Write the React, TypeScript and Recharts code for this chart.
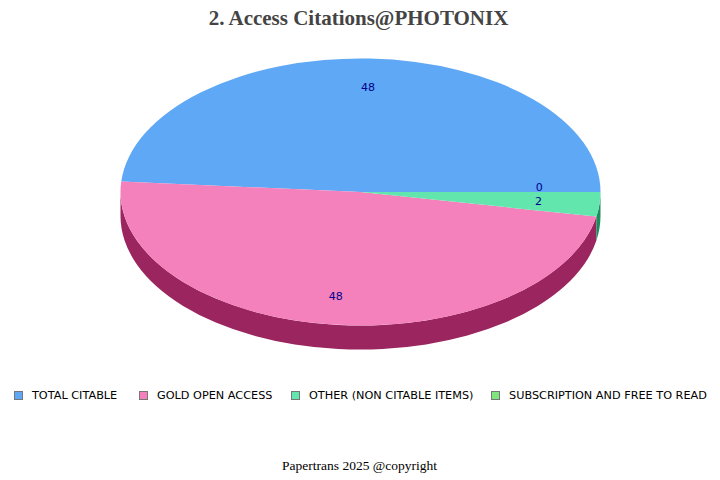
import React from "react";
import { PieChart, Pie, Legend } from "recharts";

const categories = ["TOTAL CITABLE", "GOLD OPEN ACCESS", "OTHER (NON CITABLE ITEMS)", "SUBSCRIPTION AND FREE TO READ"];
const shares = [48.75, 48.3, 2.95, 0];
const topColors = ["#5FA8F5", "#F481BB", "#62E6AD", "#7FE57F"];
const sideColors = ["#2B6CB0", "#9B255E", "#1C8C5C", "#3FA53F"];

const W = 720;
const H = 480;
const CX = 360.5;
const CY = 192;
const RX = 240;
const RY = 133.5;
const DEPTH = 24;
const FLATTEN = RY / RX;
const RAD = Math.PI / 180;

const tableTop = categories.map((name, i) => ({ name, value: shares[i], fill: topColors[i] }));
const tableSide = categories.map((name, i) => ({ name, value: shares[i], fill: sideColors[i] }));

const pt = (cx: number, cy: number, r: number, a: number) => [
  cx + r * Math.cos(a * RAD),
  cy - r * FLATTEN * Math.sin(a * RAD),
];

const TopSector = (p: any) => {
  const { cx, cy, outerRadius: r, startAngle, endAngle, fill } = p;
  if (Math.abs(endAngle - startAngle) < 0.001) return <g />;
  const [x1, y1] = pt(cx, cy, r, startAngle);
  const [x2, y2] = pt(cx, cy, r, endAngle);
  const large = endAngle - startAngle > 180 ? 1 : 0;
  return (
    <path
      d={`M${cx},${cy}L${x1},${y1}A${r},${r * FLATTEN} 0 ${large} 0 ${x2},${y2}Z`}
      fill={fill}
      stroke="none"
    />
  );
};

const SideSector = (p: any) => {
  const { cx, cy, outerRadius: r, startAngle, endAngle, fill } = p;
  const a = Math.max(startAngle, 180);
  const b = Math.min(endAngle, 360);
  if (b - a < 0.001) return <g />;
  const [x1, y1] = pt(cx, cy, r, a);
  const [x2, y2] = pt(cx, cy, r, b);
  const ry = r * FLATTEN;
  return (
    <path
      d={`M${x1},${y1}A${r},${ry} 0 0 0 ${x2},${y2}L${x2},${y2 + DEPTH}A${r},${ry} 0 0 1 ${x1},${y1 + DEPTH}Z`}
      fill={fill}
      stroke="none"
    />
  );
};

const labelReach = [0.786, 0.786, 0.745, 0.745];
const labelLift = [0, 0, 0, -5];

const SliceLabel = (p: any) => {
  const { cx, cy, outerRadius: r, midAngle, index, value } = p;
  const [x, y] = pt(cx, cy, r * labelReach[index], midAngle);
  return (
    <text
      x={x}
      y={y + labelLift[index]}
      textAnchor="middle"
      dominantBaseline="central"
      fontFamily="DejaVu Sans"
      fontSize={11}
      fill="#00008B"
    >
      {Math.floor(value)}
    </text>
  );
};

const legendStarts = [14, 139, 291, 491];

const LegendRow = () => (
  <svg width={W} height={24} style={{ display: "block" }}>
    {categories.map((name, i) => (
      <g key={name}>
        <rect x={legendStarts[i] + 0.5} y={7.5} width={8} height={8} fill={topColors[i]} stroke="#777777" strokeWidth={1} />
        <text
          x={legendStarts[i] + 18}
          y={11.5}
          dominantBaseline="central"
          fontFamily="DejaVu Sans"
          fontSize={11.25}
          fill="#000000"
        >
          {name}
        </text>
      </g>
    ))}
  </svg>
);

export default function App() {
  return (
    <div style={{ position: "absolute", left: 0, top: 0, width: W, height: H, background: "#fff" }}>
      <PieChart width={W} height={H} margin={{ top: 0, right: 0, bottom: 0, left: 0 }}>
        <text x={358.5} y={25} textAnchor="middle" fontFamily="Liberation Serif" fontWeight="bold" fontSize={21} fill="#444444">
          2. Access Citations@PHOTONIX
        </text>
        <Pie
          data={tableSide}
          dataKey="value"
          nameKey="name"
          cx={CX}
          cy={CY}
          outerRadius={RX}
          startAngle={0}
          endAngle={360}
          paddingAngle={0}
          stroke="none"
          legendType="none"
          shape={SideSector}
          label={false}
          labelLine={false}
          isAnimationActive={false}
        />
        <Pie
          data={tableTop}
          dataKey="value"
          nameKey="name"
          cx={CX}
          cy={CY}
          outerRadius={RX}
          startAngle={0}
          endAngle={360}
          paddingAngle={0}
          stroke="none"
          shape={TopSector}
          label={SliceLabel}
          labelLine={false}
          isAnimationActive={false}
        />
        <Legend content={LegendRow as any} wrapperStyle={{ left: 0, top: 384, width: W, height: 24 }} />
        <text x={359.5} y={470} textAnchor="middle" fontFamily="Liberation Serif" fontSize={13.5} fill="#000000">
          Papertrans 2025 @copyright
        </text>
      </PieChart>
    </div>
  );
}
